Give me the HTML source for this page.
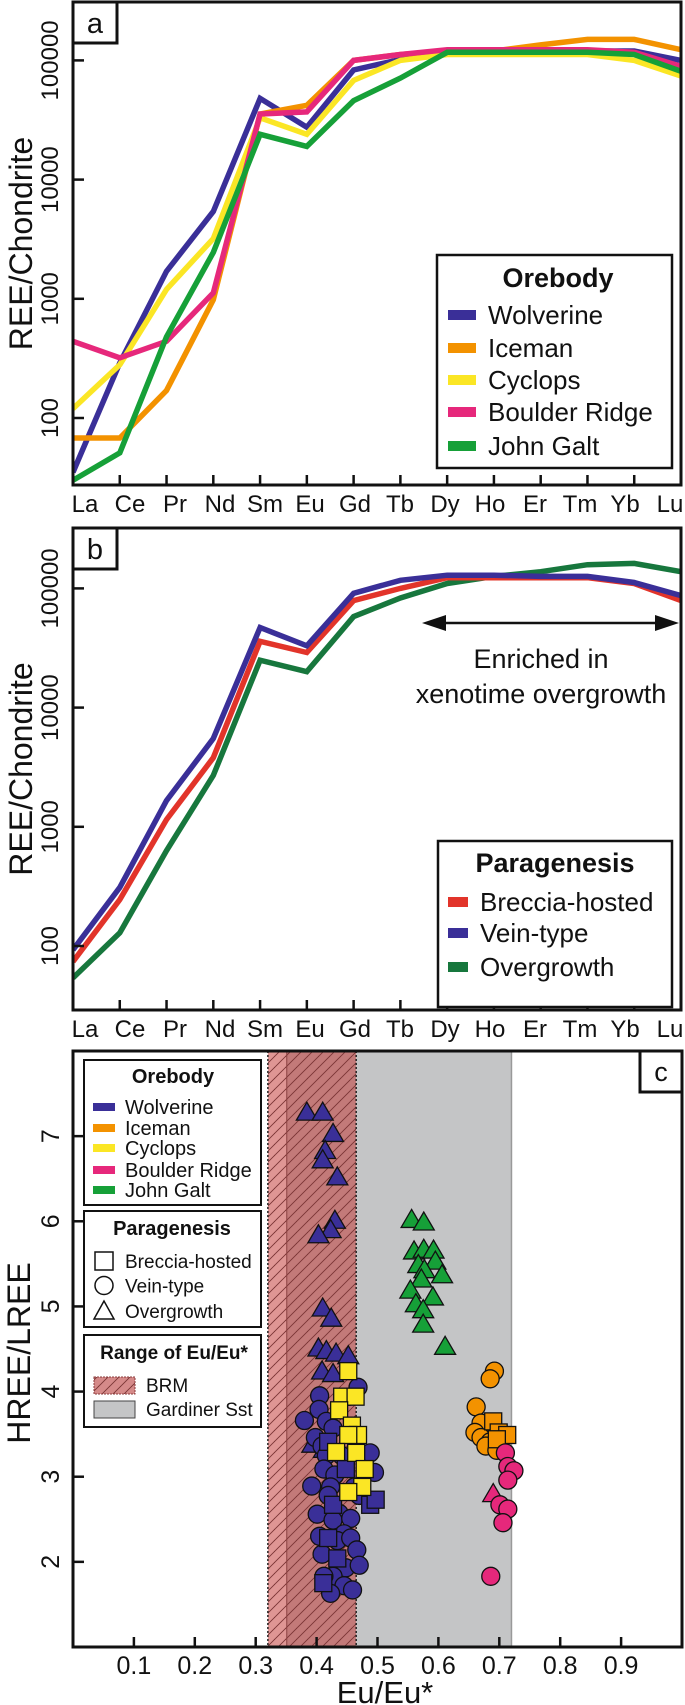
<!DOCTYPE html>
<html><head><meta charset="utf-8"><style>
html,body{margin:0;padding:0;background:#fff;}
svg{display:block;font-family:"Liberation Sans",Arial,sans-serif;}
</style></head><body>
<svg id="fig" width="685" height="1705" viewBox="0 0 685 1705" xmlns="http://www.w3.org/2000/svg">
<defs>
<pattern id="hatch" patternUnits="userSpaceOnUse" width="11" height="11">
<path d="M-1,12 L12,-1" stroke="#7a3434" stroke-width="0.9"/>
<path d="M-6,6 L6,-6 M5,17 L17,5" stroke="#7a3434" stroke-width="0.9"/>
</pattern>
<clipPath id="clipA"><rect x="73" y="2" width="608" height="483"/></clipPath>
<clipPath id="clipB"><rect x="73" y="528" width="608" height="482"/></clipPath>
<clipPath id="clipC"><rect x="73" y="1051" width="609" height="596"/></clipPath>
</defs>
<g id="panelA"></g>
<g id="panelB"></g>
<g id="panelC"></g>
</svg>
<script>
// ---------- data ----------
const reeLabels = ["La","Ce","Pr","Nd","Sm","Eu","Gd","Tb","Dy","Ho","Er","Tm","Yb","Lu"];
const logTicks = [100,1000,10000,100000];
const seriesNamesA = ["Wolverine","Iceman","Cyclops","Boulder Ridge","John Galt"];
const wolverine = [35,290,1700,5400,48000,27500,83000,102000,120000,120000,120000,120000,120000,100000];
const iceman = [68,68,170,980,35500,42000,100000,112000,120000,120000,135000,150000,150000,123000];
const cyclops = [120,280,1200,3200,33000,24000,68000,100000,112000,112000,112000,112000,100000,74000];
const boulderRidge = [440,320,440,1120,35500,37000,100000,112000,123000,123000,123000,123000,117000,89000];
const johnGalt = [30,51,480,2450,24000,19000,46000,71000,117000,117000,117000,117000,112000,81000];
const seriesNamesB = ["Breccia-hosted","Vein-type","Overgrowth"];
const breccia = [74,245,1150,3800,36000,29000,79000,100000,123000,123000,123000,123000,110000,79000];
const vein = [93,310,1660,5500,47000,33000,91000,117000,129000,129000,126000,126000,112000,87000];
const overgrowth = [54,129,630,2700,25000,20000,58000,83000,110000,126000,138000,158000,162000,138000];

const xTicksC = [0.1,0.2,0.3,0.4,0.5,0.6,0.7,0.8,0.9];
const yTicksC = [2,3,4,5,6,7];
const brmRange = [0.32,0.465];
const brmInner = 0.351;
const gardinerRange = [0.465,0.72];
const wolvTri = [[0.384,7.27],[0.41,7.27],[0.427,7.02],[0.414,6.82],[0.41,6.71],[0.434,6.51],[0.43,6.0],[0.423,5.89],[0.403,5.83],[0.41,4.97],[0.424,4.85],[0.403,4.5],[0.416,4.47],[0.432,4.44],[0.452,4.41],[0.409,4.23],[0.427,4.2],[0.393,3.37],[0.412,3.31]];
const galtTri = [[0.556,6.01],[0.576,5.98],[0.56,5.64],[0.576,5.66],[0.592,5.65],[0.567,5.48],[0.595,5.52],[0.577,5.42],[0.606,5.36],[0.572,5.31],[0.554,5.18],[0.591,5.1],[0.563,5.02],[0.575,4.95],[0.575,4.78],[0.611,4.52]];
const boulderTri = [[0.69,2.79]];
const wolvCirc = [[0.405,3.95],[0.468,4.05],[0.404,3.79],[0.38,3.66],[0.416,3.65],[0.398,3.46],[0.427,3.57],[0.409,3.36],[0.416,3.25],[0.441,3.25],[0.488,3.28],[0.495,3.05],[0.412,3.09],[0.43,3.02],[0.392,2.89],[0.423,2.88],[0.462,2.88],[0.419,2.78],[0.47,2.78],[0.401,2.56],[0.437,2.57],[0.427,2.49],[0.456,2.51],[0.445,2.33],[0.405,2.3],[0.434,2.25],[0.456,2.28],[0.409,2.09],[0.466,2.14],[0.448,1.93],[0.47,1.96],[0.427,1.83],[0.412,1.83],[0.445,1.72],[0.459,1.67],[0.423,1.63]];
const icemanCirc = [[0.692,4.24],[0.685,4.15],[0.662,3.82],[0.67,3.63],[0.66,3.52],[0.67,3.46],[0.685,3.41],[0.678,3.36],[0.696,3.31]];
const boulderCirc = [[0.71,3.28],[0.714,3.12],[0.724,3.07],[0.714,2.96],[0.701,2.67],[0.714,2.62],[0.706,2.46],[0.686,1.83]];
const wolvSq = [[0.419,3.41],[0.448,3.09],[0.488,2.67],[0.497,2.73],[0.427,2.67],[0.419,2.28],[0.434,2.04],[0.411,1.75]];
const icemanSq = [[0.69,3.65],[0.699,3.52],[0.713,3.49],[0.696,3.44]];
const cyclopsSq = [[0.452,4.24],[0.442,3.94],[0.464,3.94],[0.437,3.78],[0.458,3.6],[0.468,3.49],[0.452,3.49],[0.432,3.29],[0.465,3.28],[0.479,3.09],[0.475,2.88],[0.452,2.82]];

// ---------- helpers ----------
const NS = "http://www.w3.org/2000/svg";
function mk(parent, tag, attrs, text){
  const e = document.createElementNS(NS, tag);
  for (const k in attrs) e.setAttribute(k, attrs[k]);
  if (text !== undefined) e.textContent = text;
  parent.appendChild(e);
  return e;
}
const C = {blue:"#3a2f98", orange:"#f39200", yellow:"#fbe625", pink:"#e6287b", green:"#16a038", red:"#e2342a", dgreen:"#17773d"};

// ---------- REE panels ----------
function reePanel(g, top, bottom, label, clipId, seriesArr, colors, names, tick100Y){
  const L = 73, R = 681;
  const xr = i => L + i*(R-L)/13;
  const yv = v => tick100Y - (Math.log10(v)-2)*119.2;
  const lines = mk(g,"g",{"clip-path":"url(#"+clipId+")"});
  
  
  seriesArr.forEach((s,k)=>{
    const pts = s.map((v,i)=>xr(i).toFixed(1)+","+yv(v).toFixed(1)).join(" ");
    const pl = mk(lines,"polyline",{points:pts, fill:"none", stroke:colors[k], "stroke-width":5.5, "stroke-linejoin":"miter"});
    
    
  });
  const frame = mk(g,"rect",{x:L,y:top,width:R-L,height:bottom-top,fill:"none",stroke:"#111","stroke-width":3});
  
  
  reeLabels.forEach((t,i)=>{
    if(i>0 && i<13){ const tk = mk(g,"line",{x1:xr(i),x2:xr(i),y1:bottom,y2:bottom-10,stroke:"#111","stroke-width":2.5});
      
       }
    const tx = mk(g,"text",{x:85+45*i,y:bottom+27,"font-size":24,"text-anchor":"middle",fill:"#111"},t);
    
    
  });
  logTicks.forEach(v=>{
    const y = yv(v);
    const tk = mk(g,"line",{x1:L,x2:L+11,y1:y,y2:y,stroke:"#111","stroke-width":2.5});
    
    
    const tx = mk(g,"text",{transform:"translate(58,"+y+") rotate(-90)","font-size":24,"text-anchor":"middle",fill:"#111"},String(v));
    
    
  });
  const yt = mk(g,"text",{transform:"translate(32,"+((top+bottom)/2)+") rotate(-90)","font-size":32,"text-anchor":"middle",fill:"#111"},"REE/Chondrite");
  
  
  const lb = mk(g,"rect",{x:L,y:top,width:44,height:41,fill:"#fff",stroke:"#111","stroke-width":3});
  
  
  const lt = mk(g,"text",{x:L+22,y:top+31,"font-size":29,"text-anchor":"middle",fill:"#111"},label);
  
  
}

const gA = document.getElementById("panelA");
reePanel(gA,2,485,"a","clipA",[wolverine,iceman,cyclops,boulderRidge,johnGalt],[C.blue,C.orange,C.yellow,C.pink,C.green],seriesNamesA,418);
// legend a
(function(){
  const lg = mk(gA,"g",{});
  
  
  mk(lg,"rect",{x:437,y:255,width:235,height:213,fill:"#fff",stroke:"#111","stroke-width":2.5});
  const t = mk(lg,"text",{x:558,y:287,"font-size":27,"font-weight":"bold","text-anchor":"middle",fill:"#111"},"Orebody");
  
  
  const cols=[C.blue,C.orange,C.yellow,C.pink,C.green], ys=[315,348,380,412,446];
  seriesNamesA.forEach((n,k)=>{
    const e = mk(lg,"g",{});
    
    
    mk(e,"rect",{x:448,y:ys[k]-5,width:28,height:10,fill:cols[k]});
    mk(e,"text",{x:488,y:ys[k]+9,"font-size":26,fill:"#111"},n);
  });
})();

const gB = document.getElementById("panelB");
reePanel(gB,528,1010,"b","clipB",[overgrowth,breccia,vein],[C.dgreen,C.red,C.blue],["Overgrowth","Breccia-hosted","Vein-type"],946);
(function(){
  const ar = mk(gB,"g",{});
  
  
  mk(ar,"line",{x1:432,x2:668,y1:623,y2:623,stroke:"#111","stroke-width":2.5});
  mk(ar,"polygon",{points:"422,623 446,615 446,631",fill:"#111"});
  mk(ar,"polygon",{points:"679,623 655,615 655,631",fill:"#111"});
  const a1 = mk(gB,"text",{x:541,y:668,"font-size":27,"text-anchor":"middle",fill:"#111"},"Enriched in");
  
  
  const a2 = mk(gB,"text",{x:541,y:703,"font-size":27,"text-anchor":"middle",fill:"#111"},"xenotime overgrowth");
  
  
  const lg = mk(gB,"g",{});
  
  
  mk(lg,"rect",{x:438,y:841,width:234,height:166,fill:"#fff",stroke:"#111","stroke-width":2.5});
  mk(lg,"text",{x:555,y:872,"font-size":27,"font-weight":"bold","text-anchor":"middle",fill:"#111"},"Paragenesis");
  const cols=[C.red,C.blue,C.dgreen], ys=[902,933,967];
  seriesNamesB.forEach((n,k)=>{
    const e = mk(lg,"g",{});
    
    
    mk(e,"rect",{x:448,y:ys[k]-5,width:20,height:10,fill:cols[k]});
    mk(e,"text",{x:480,y:ys[k]+9,"font-size":26,fill:"#111"},n);
  });
})();

// ---------- panel c ----------
(function(){
  const g = document.getElementById("panelC");
  const L=73,R=682,T=1051,B=1647;
  const xs = v => L + v*(R-L);
  const ys = v => B - (v-1)*(B-T)/7;
  const bands = mk(g,"g",{});
  
  
  const gr = mk(bands,"rect",{x:xs(gardinerRange[0]),y:T,width:xs(gardinerRange[1])-xs(gardinerRange[0]),height:B-T,fill:"#c4c5c6"});
  
  
  mk(bands,"line",{x1:xs(gardinerRange[1]),x2:xs(gardinerRange[1]),y1:T,y2:B,stroke:"#999","stroke-width":1.5});
  const b1 = mk(bands,"rect",{x:xs(brmRange[0]),y:T,width:xs(brmInner)-xs(brmRange[0]),height:B-T,fill:"#df9694"});
  
  
  const b2 = mk(bands,"rect",{x:xs(brmInner),y:T,width:xs(brmRange[1])-xs(brmInner),height:B-T,fill:"#c37a79"});
  
  
  mk(bands,"rect",{x:xs(brmRange[0]),y:T,width:xs(brmRange[1])-xs(brmRange[0]),height:B-T,fill:"url(#hatch)"});
  mk(bands,"line",{x1:xs(brmInner),x2:xs(brmInner),y1:T,y2:B,stroke:"#8a4040","stroke-width":1});
  [brmRange[0],brmRange[1]].forEach(v=>mk(bands,"line",{x1:xs(v),x2:xs(v),y1:T,y2:B,stroke:"#222","stroke-width":1.5,"stroke-dasharray":"2,2"}));

  const pts = mk(g,"g",{"clip-path":"url(#clipC)"});
  
  
  function tri(arr,col,name){ arr.forEach(p=>{const x=xs(p[0]),y=ys(p[1]);
    const e=mk(pts,"polygon",{points:`${x},${y-11} ${x-10.5},${y+7} ${x+10.5},${y+7}`,fill:col,stroke:"#111","stroke-width":1.3});
    
    });}
  function circ(arr,col,name){ arr.forEach(p=>{
    const e=mk(pts,"circle",{cx:xs(p[0]),cy:ys(p[1]),r:9,fill:col,stroke:"#111","stroke-width":1.3});
    
    });}
  function sq(arr,col,name){ arr.forEach(p=>{
    const e=mk(pts,"rect",{x:xs(p[0])-8.5,y:ys(p[1])-8.5,width:17,height:17,fill:col,stroke:"#111","stroke-width":1.3});
    
    });}
  tri(wolvTri,C.blue,'wolverine-overgrowth-point');
  tri(galtTri,C.green,'john-galt-overgrowth-point');
  tri(boulderTri,C.pink,'boulder-ridge-overgrowth-point');
  circ(wolvCirc,C.blue,'wolverine-vein-point');
  sq(wolvSq,C.blue,'wolverine-breccia-point');
  circ(icemanCirc,C.orange,'iceman-vein-point');
  sq(icemanSq,C.orange,'iceman-breccia-point');
  circ(boulderCirc,C.pink,'boulder-ridge-vein-point');
  sq(cyclopsSq,C.yellow,'cyclops-breccia-point');

  const fr = mk(g,"rect",{x:L,y:T,width:R-L,height:B-T,fill:"none",stroke:"#111","stroke-width":3});
  
  
  xTicksC.forEach(v=>{
    const tk=mk(g,"line",{x1:xs(v),x2:xs(v),y1:B,y2:B-10,stroke:"#111","stroke-width":2.5});
    
    
    const tx=mk(g,"text",{x:xs(v),y:B+27,"font-size":25,"text-anchor":"middle",fill:"#111"},String(v));
    
    
  });
  yTicksC.forEach(v=>{
    const tk=mk(g,"line",{x1:L,x2:L+11,y1:ys(v),y2:ys(v),stroke:"#111","stroke-width":2.5});
    
    
    const tx=mk(g,"text",{transform:`translate(59,${ys(v)}) rotate(-90)`,"font-size":25,"text-anchor":"middle",fill:"#111"},String(v));
    
    
  });
  const xt=mk(g,"text",{x:385,y:1703,"font-size":31,"text-anchor":"middle",fill:"#111"},"Eu/Eu*");
  
  
  const yt=mk(g,"text",{transform:"translate(30,1353) rotate(-90)","font-size":32,"text-anchor":"middle",fill:"#111"},"HREE/LREE");
  
  
  const lb=mk(g,"rect",{x:640,y:T,width:42,height:41,fill:"#fff",stroke:"#111","stroke-width":3});
  
  
  const lt=mk(g,"text",{x:661,y:T+30,"font-size":27,"text-anchor":"middle",fill:"#111"},"c");
  
  

  // legends
  const l1=mk(g,"g",{});
  
  
  mk(l1,"rect",{x:84,y:1060,width:177,height:145,fill:"#fff",stroke:"#111","stroke-width":2});
  mk(l1,"text",{x:173,y:1083,"font-size":20,"font-weight":"bold","text-anchor":"middle",fill:"#111"},"Orebody");
  const cols=[C.blue,C.orange,C.yellow,C.pink,C.green], yy=[1107,1128,1148,1170,1190];
  seriesNamesA.forEach((n,k)=>{
    const e=mk(l1,"g",{});
    
    
    mk(e,"rect",{x:93,y:yy[k]-4,width:22,height:8,fill:cols[k]});
    mk(e,"text",{x:125,y:yy[k]+7,"font-size":20,fill:"#111"},n);
  });
  const l2=mk(g,"g",{});
  
  
  mk(l2,"rect",{x:84,y:1211,width:177,height:116,fill:"#fff",stroke:"#111","stroke-width":2});
  mk(l2,"text",{x:172,y:1235,"font-size":20,"font-weight":"bold","text-anchor":"middle",fill:"#111"},"Paragenesis");
  mk(l2,"rect",{x:95,y:1252,width:18,height:18,fill:"none",stroke:"#111","stroke-width":1.5});
  mk(l2,"circle",{cx:104,cy:1285.5,r:9,fill:"none",stroke:"#111","stroke-width":1.5});
  mk(l2,"polygon",{points:"104,1301 94,1319 114,1319",fill:"none",stroke:"#111","stroke-width":1.5});
  [["Breccia-hosted",1261],["Vein-type",1285.5],["Overgrowth",1311]].forEach(p=>{
    const e=mk(l2,"text",{x:125,y:p[1]+7,"font-size":19,fill:"#111"},p[0]);
    
    
  });
  const l3=mk(g,"g",{});
  
  
  mk(l3,"rect",{x:84,y:1335,width:177,height:92,fill:"#fff",stroke:"#111","stroke-width":2});
  mk(l3,"text",{x:174,y:1359,"font-size":19,"font-weight":"bold","text-anchor":"middle",fill:"#111"},"Range of Eu/Eu*");
  mk(l3,"rect",{x:94,y:1377,width:41,height:17,fill:"#d58a89"});
  mk(l3,"rect",{x:94,y:1377,width:41,height:17,fill:"url(#hatch)",stroke:"#8a3a3a","stroke-width":1,"stroke-dasharray":"2,1"});
  mk(l3,"rect",{x:94,y:1401,width:41,height:17,fill:"#c4c5c6",stroke:"#444","stroke-width":1});
  const e1=mk(l3,"text",{x:146,y:1392,"font-size":19,fill:"#111"},"BRM");
  
  
  const e2=mk(l3,"text",{x:146,y:1416,"font-size":19,fill:"#111"},"Gardiner Sst");
  
  
})();
</script>
</body></html>
